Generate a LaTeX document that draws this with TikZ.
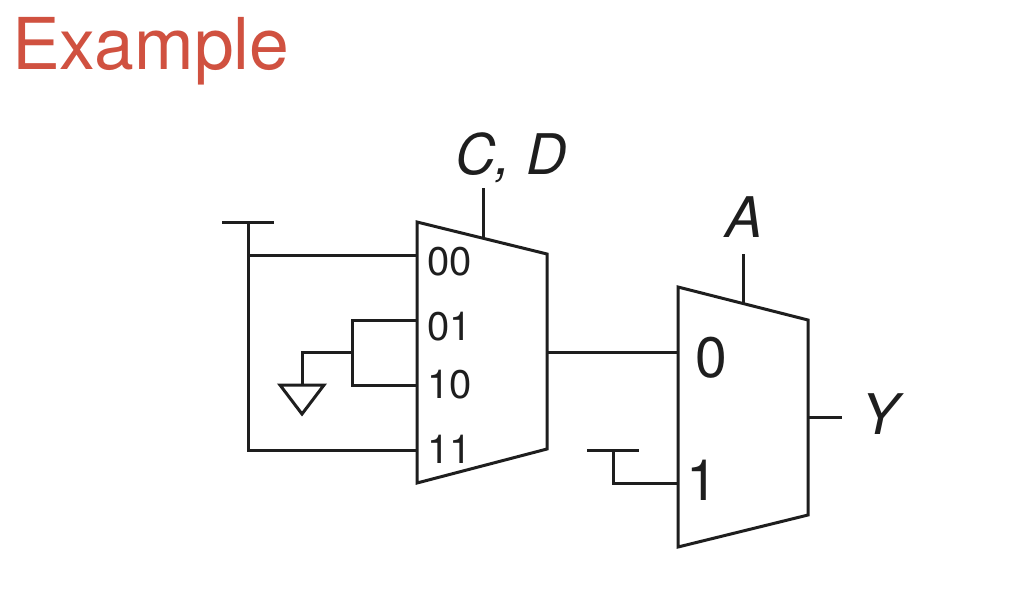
\documentclass[tikz,border=0pt]{standalone}
\usepackage{fontspec}
\setmainfont{TeX Gyre Heros}
\definecolor{titlered}{HTML}{D05140}
\definecolor{ink}{HTML}{1E1E1E}
\begin{document}
\begin{tikzpicture}[x=1pt,y=-1pt,
  wire/.style={draw=ink,line width=3pt},
  lbl/.style={inner sep=0pt,text=ink,font=\fontsize{40}{40}\selectfont},
  sig/.style={inner sep=0pt,text=ink,font=\fontsize{56}{56}\selectfont\itshape},
  num/.style={inner sep=0pt,text=ink,font=\fontsize{57}{57}\selectfont}]
\useasboundingbox[fill=white] (0,0) rectangle (1024,592);
\node[inner sep=0pt,text=titlered,font=\fontsize{71.5}{71.5}\selectfont,anchor=base west] (title) at (12,69) {Example};
% left mux
\draw[wire] (417,222) -- (547,254) -- (547,449) -- (417,483) -- cycle;
\coordinate (m1top) at (483,238);
\coordinate (m1out) at (547,352);
\coordinate (i00) at (417,255);
\coordinate (i01) at (417,320);
\coordinate (i10) at (417,385);
\coordinate (i11) at (417,450);
\node[lbl,anchor=base west] (l00) at (427,275) {00};
\node[lbl,anchor=base west] (l01) at (427,340) {01};
\node[lbl,anchor=base west] (l10) at (427,398) {10};
\node[lbl,anchor=base west] (l11) at (427,463) {11};
\node[sig,anchor=base] (cd) at (511,174) {C, D};
\coordinate (cdb) at (483,188);
\draw[wire] (cdb) -- (m1top);
% vdd left
\coordinate (v1) at (248,222);
\coordinate (v1l) at (222,222);
\coordinate (v1r) at (274,222);
\coordinate (v1b) at (248,450);
\coordinate (v1m) at (248,255);
\draw[wire] (v1l) -- (v1r);
\draw[wire] (v1) -- (v1b) -- (i11);
\draw[wire] (v1m) -- (i00);
% gnd
\coordinate (j) at (352,352);
\coordinate (jt) at (352,320);
\coordinate (jb) at (352,385);
\coordinate (g) at (302,352);
\coordinate (gt) at (302,385);
\draw[wire] (i01) -- (jt) -- (jb) -- (i10);
\draw[wire] (j) -- (g) -- (gt);
\draw[wire] (280,385) -- (324,385) -- (302,414) -- cycle;
% right mux
\draw[wire] (678,287) -- (808,320) -- (808,515) -- (678,547) -- cycle;
\coordinate (m2top) at (743,303);
\coordinate (m2i0) at (678,352);
\coordinate (m2i1) at (678,483);
\coordinate (m2o) at (808,417);
\draw[wire] (m1out) -- (m2i0);
\node[num,anchor=base west] (n0) at (695,377) {0};
\node[num,anchor=base west] (n1) at (686,500) {1};
\node[sig,anchor=base] (a) at (744,237) {A};
\coordinate (ab) at (743,254);
\draw[wire] (ab) -- (m2top);
\coordinate (y) at (842,417);
\draw[wire] (m2o) -- (y);
\node[sig,anchor=base] (yl) at (880,434) {Y};
% vdd right
\coordinate (v2) at (613,450);
\coordinate (v2c) at (613,483);
\draw[wire] (587,450) -- (639,450);
\draw[wire] (v2) -- (v2c) -- (m2i1);
\end{tikzpicture}
\end{document}
